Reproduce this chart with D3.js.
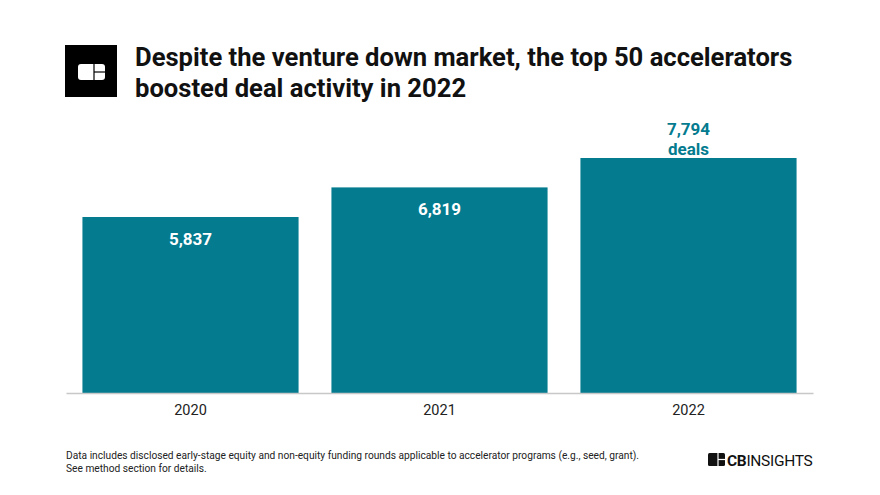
<!DOCTYPE html>
<html><head><meta charset="utf-8">
<script src="https://cdn.jsdelivr.net/npm/d3@7"></script>
<style>body{margin:0;background:#fff;}svg{display:block;font-family:Roboto,"Noto Sans",sans-serif;}</style>
</head><body>
<svg id="c" width="880" height="495"></svg>
<script>
const categories = ["2020", "2021", "2022"];
const values = [5837, 6819, 7794];
const labels = ["5,837", "6,819", "7,794"];

const svg = d3.select("#c");
const teal = "#047b8f";
const margin = {left: 66, right: 67, top: 100, bottom: 102};
const W = 880, H = 495;
const x = d3.scaleBand().domain(categories).range([margin.left, W - margin.right]).paddingInner(0.132).paddingOuter(0.066);
const y = d3.scaleLinear().domain([0, 7794]).range([393, 158]);

// title
const t = svg.append("text").attr("x", 135).attr("font-size", 25.6).attr("font-weight", 700).attr("fill", "#111");
t.append("tspan").attr("x", 135).attr("y", 66).text("Despite the venture down market, the top 50 accelerators");
t.append("tspan").attr("x", 135).attr("y", 97).text("boosted deal activity in 2022");

// logo
svg.append("rect").attr("x", 65).attr("y", 45).attr("width", 52).attr("height", 52).attr("fill", "#000");
svg.append("rect").attr("x", 78).attr("y", 64).attr("width", 27).attr("height", 16).attr("rx", 3).attr("fill", "#fff");
svg.append("line").attr("x1", 94).attr("x2", 94).attr("y1", 64).attr("y2", 80).attr("stroke", "#000").attr("stroke-width", 1.2);
svg.append("line").attr("x1", 94).attr("x2", 105).attr("y1", 72).attr("y2", 72).attr("stroke", "#000").attr("stroke-width", 1.2);

// bars
svg.selectAll("rect.bar").data(categories).join("rect").attr("class", "bar")
  .attr("x", d => x(d)).attr("width", x.bandwidth())
  .attr("y", (d, i) => y(values[i])).attr("height", (d, i) => y(0) - y(values[i]))
  .attr("fill", teal);

// axis
const ax = svg.append("g").attr("transform", "translate(0,393)").call(d3.axisBottom(x).tickSize(0).tickPadding(12));
ax.select(".domain").attr("stroke", "#c8c8c8").attr("stroke-width", 1.5);
ax.selectAll("text").attr("font-size", 14.5).attr("fill", "#222").attr("font-family", "Roboto");

// value labels
categories.forEach((c, i) => {
  const cx = x(c) + x.bandwidth() / 2;
  if (i < 2) {
    svg.append("text").attr("x", cx).attr("y", y(values[i]) + 28).attr("text-anchor", "middle")
      .attr("font-size", 17).attr("font-weight", 700).attr("fill", "#fff").text(labels[i]);
  } else {
    svg.append("text").attr("x", cx).attr("y", y(values[i]) - 23).attr("text-anchor", "middle")
      .attr("font-size", 17).attr("font-weight", 700).attr("fill", teal).text(labels[i]);
    svg.append("text").attr("x", cx).attr("y", y(values[i]) - 3).attr("text-anchor", "middle")
      .attr("font-size", 17).attr("font-weight", 700).attr("fill", teal).text("deals");
  }
});

// footer
const f = svg.append("text").attr("font-size", 10.2).attr("fill", "#222");
f.append("tspan").attr("x", 66).attr("y", 459).text("Data includes disclosed early-stage equity and non-equity funding rounds applicable to accelerator programs (e.g., seed, grant).");
f.append("tspan").attr("x", 66).attr("y", 472).text("See method section for details.");

// CB Insights logo
svg.append("rect").attr("x", 708).attr("y", 453).attr("width", 17).attr("height", 13).attr("rx", 1.5).attr("fill", "#111");
svg.append("line").attr("x1", 718).attr("x2", 718).attr("y1", 453).attr("y2", 466).attr("stroke", "#fff").attr("stroke-width", 1.2);
svg.append("line").attr("x1", 718).attr("x2", 725).attr("y1", 459.5).attr("y2", 459.5).attr("stroke", "#fff").attr("stroke-width", 1.2);
const lg = svg.append("text").attr("x", 727).attr("y", 466).attr("font-size", 15.5).attr("fill", "#111").attr("letter-spacing", -0.3);
lg.append("tspan").attr("font-weight", 700).text("CB");
lg.append("tspan").attr("font-weight", 400).text("INSIGHTS");
</script>
</body></html>
